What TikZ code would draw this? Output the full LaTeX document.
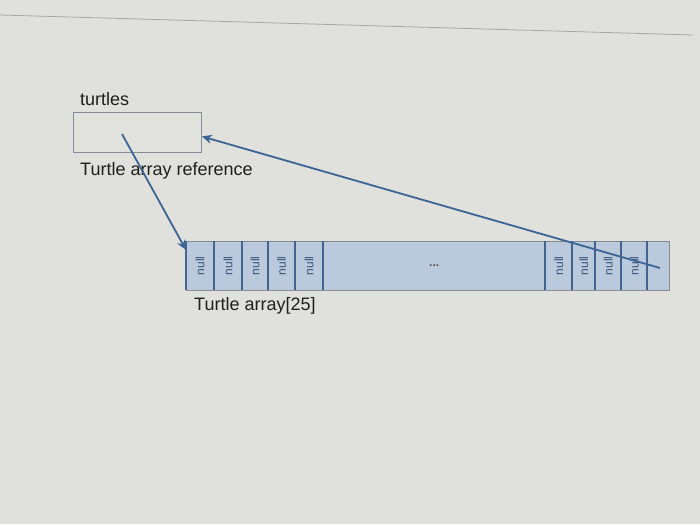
\documentclass[tikz,border=0pt]{standalone}
\usepackage{fontspec}
\setmainfont{Liberation Sans}
\usetikzlibrary{arrows.meta,calc}
\definecolor{bg}{RGB}{224,224,220}
\definecolor{cellfill}{RGB}{186,201,219}
\definecolor{arrowblue}{RGB}{60,100,148}
\definecolor{divblue}{RGB}{66,100,142}
\definecolor{edgegray}{RGB}{135,140,148}
\begin{document}
\begin{tikzpicture}[x=1pt,y=-1pt,
  lbl/.style={font=\fontsize{18}{20}\selectfont, inner sep=0pt, anchor=base west, text=black!88},
  refbox/.style={draw=edgegray, line width=0.9pt, fill=bg!97!white, anchor=north west, minimum width=128pt, minimum height=40pt, inner sep=0pt},
  arraybox/.style={fill=cellfill, draw=edgegray, line width=0.9pt, anchor=north west, minimum height=49pt, inner sep=0pt},
  cell/.style={anchor=north west, minimum height=49pt, inner sep=0pt},
  divider/.style={draw=divblue, line width=1.8pt},
  nulltxt/.style={font=\fontsize{12}{12}\selectfont, rotate=90, text=divblue!85!black},
  conn/.style={draw=arrowblue, line width=1.8pt, -{Stealth[length=10pt,width=9pt]}}
]
\fill[bg] (0,0) rectangle (700,524);
\useasboundingbox (0,0) rectangle (700,524);
\draw[black!35, line width=0.8pt] (0,15) -- (693,35);

\node[lbl] (lturtles) at (80,106) {turtles};
\node[refbox] (ref) at (73,112) {};
\node[lbl] (lref) at (80,175) {Turtle array reference};

\node[arraybox, minimum width=483pt] (arr) at (186,241) {};
\node[cell, minimum width=28pt] (c1) at (186,241) {};
\node[cell, minimum width=28pt] (c2) at (214,241) {};
\node[cell, minimum width=26pt] (c3) at (242,241) {};
\node[cell, minimum width=27pt] (c4) at (268,241) {};
\node[cell, minimum width=28pt] (c5) at (295,241) {};
\node[cell, minimum width=222pt] (mid) at (323,241) {};
\node[cell, minimum width=27pt] (c6) at (545,241) {};
\node[cell, minimum width=23pt] (c7) at (572,241) {};
\node[cell, minimum width=26pt] (c8) at (595,241) {};
\node[cell, minimum width=26pt] (c9) at (621,241) {};
\node[cell, minimum width=22pt] (c10) at (647,241) {};
\foreach \c in {c1,c2,c3,c4,c5,mid,c6,c7,c8,c9,c10}{
  \draw[divider] (\c.north west) -- (\c.south west);
}
\foreach \c in {c1,c2,c3,c4,c5,c6,c7,c8,c9}{
  \node[nulltxt] at (\c.center) {null};
}
\node[font=\bfseries\fontsize{12}{12}\selectfont, text=black!65] (dots) at (mid.center) {...};
\node[lbl] (larr) at (194,310) {Turtle array[25]};

\coordinate (s1) at (122,134);
\draw[conn] (s1) -- ($(arr.north west)!0.18!(arr.south west)$);
\coordinate (s2) at (660,268);
\draw[conn] (s2) -- ([yshift=-4pt]ref.east);
\end{tikzpicture}
\end{document}
